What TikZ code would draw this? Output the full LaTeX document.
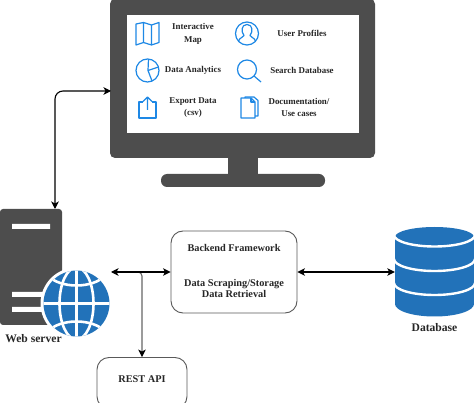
\documentclass[tikz,border=0pt]{standalone}
\usepackage{fontspec}
\setmainfont{Liberation Serif}
\usetikzlibrary{arrows.meta}
\definecolor{dk}{HTML}{4D4D4D}
\definecolor{ic}{HTML}{1E88E5}
\definecolor{gb}{HTML}{2272B9}
\tikzset{
 lab/.style={font=\bfseries\fontsize{8.9}{12.6}\selectfont,text=black!85,align=center,inner sep=0pt},
 bigl/.style={font=\bfseries\fontsize{10.3}{11.8}\selectfont,text=black!85,align=center,inner sep=0pt},
 capl/.style={font=\bfseries\fontsize{11.6}{13}\selectfont,text=black!85,align=center,inner sep=0pt},
 icn/.style={draw=ic,line width=1.2pt,line join=round},
 bx/.style={draw=black!65,line width=0.9pt,fill=white,rounded corners=12pt,inner sep=0pt},
 arr/.style={line width=1.1pt,black,{Stealth[length=7.5pt,width=7.5pt,inset=2pt]}-{Stealth[length=7.5pt,width=7.5pt,inset=2pt]}},
}
\begin{document}
\begin{tikzpicture}[x=1pt,y=-1pt]
\useasboundingbox (0,0) rectangle (474,403);
% monitor
\fill[dk] (228,150) rectangle (258,180);
\fill[dk,rounded corners=6pt] (161,174) rectangle (325,187);
\node[draw=none,fill=dk,rounded corners=5pt,minimum width=265pt,minimum height=159pt,inner sep=0pt] (mon) at (242.5,78.5) {};
\fill[white] (127,15.5) rectangle (358.5,133.5);
% icons: map
\draw[icn] (136,24) -- (136,45) -- (143.5,42.5) -- (151.5,45) -- (159,42.5) -- (159,22.5) -- (151.5,25) -- (143.5,22.5) -- cycle
 (143.5,22.5) -- (143.5,42.5) (151.5,25) -- (151.5,45);
\node[lab] (t1) at (193,33.8) {Interactive\\Map};
% user
\draw[icn] (247,33.5) circle (11.5);
\draw[icn] (238.5,41) .. controls (240,37) and (243,38) .. (244,35.5) .. controls (241,32) and (241,24.5) .. (247,24.5) .. controls (253,24.5) and (253,32) .. (250,35.5) .. controls (251,38) and (254,37) .. (255.5,41);
\node[lab] (t2) at (302,33.5) {User Profiles};
% pie
\draw[icn] (147.5,70.5) circle (11.5);
\draw[icn] (148.5,59) -- (148,70.5) -- (158.5,67) (148,70.5) -- (152,81);
\node[lab] (t3) at (193,70.5) {Data Analytics};
% search
\draw[icn] (247,69.5) circle (9.5);
\draw[icn] (254,76) -- (261,82);
\node[lab] (t4) at (302,70.5) {Search Database};
% export
\draw[icn] (143,102) -- (139,102) -- (139,118) -- (156,118) -- (156,102) -- (152,102);
\draw[icn] (147.5,110) -- (147.5,97) (143,101.5) -- (147.5,97) -- (152,101.5);
\node[lab] (t5) at (193,107.5) {Export Data\\(csv)};
% documents
\draw[icn] (241,98) -- (251,98) -- (255,102) -- (255,118) -- (241,118) -- cycle;
\draw[icn] (251,98) -- (251,102) -- (255,102);
\draw[icn] (245,98) -- (245,97) -- (254,97) -- (258,100.5) -- (258,116) -- (255,116);
\node[lab] (t6) at (299,107.5) {Documentation/\\Use cases};
% server
\node[fill=dk,rounded corners=3pt,minimum width=62pt,minimum height=116pt,inner sep=0pt] (srv) at (31,267) {};
\fill[white] (12,224) rectangle (50,229) (12,292) rectangle (50,297) (12,307) rectangle (50,312);
% globe
\fill[white] (76.5,303.5) circle (36);
\node[circle,fill=gb,minimum size=66pt,inner sep=0pt] (gl) at (76.5,303.5) {};
\begin{scope}
\clip (76.5,303.5) circle (33);
\draw[white,line width=2.6pt] (76.5,268) -- (76.5,338) (42,303.5) -- (112,303.5)
 (76.5,303.5) ellipse (17 and 36);
\draw[white,line width=2.6pt] (47,275) .. controls (60,289) and (93,289) .. (106,275);
\draw[white,line width=2.6pt] (47,332) .. controls (60,318) and (93,318) .. (106,332);
\end{scope}
\node[capl] (t7) at (33.5,339) {Web server};
% boxes
\node[bx,minimum width=126pt,minimum height=82pt] (be) at (234,272) {};
\node[bigl] (t8) at (234,248) {Backend Framework};
\node[bigl] (t9) at (234,288.5) {Data Scraping/Storage\\Data Retrieval};
\begin{scope}
\clip (90,350) rectangle (200,403);
\node[bx,minimum width=90pt,minimum height=51pt] (api) at (142,383) {};
\end{scope}
\node[bigl] (t10) at (142,379) {REST API};
% database
\fill[gb] (395,237) -- (395,304) arc[start angle=180,end angle=0,x radius=39.5,y radius=12.5] -- (474,237) arc[start angle=0,end angle=-180,x radius=39.5,y radius=10] -- cycle;
\node[inner sep=0pt,minimum size=0pt] (db) at (395,272) {};
\draw[white,line width=2.4pt] (394,235) arc[start angle=180,end angle=0,x radius=40.5,y radius=11.5];
\draw[white,line width=2.4pt] (394,259) arc[start angle=180,end angle=0,x radius=40.5,y radius=12];
\draw[white,line width=2.4pt] (394,283) arc[start angle=180,end angle=0,x radius=40.5,y radius=12];
\node[capl] (t11) at (434.5,328) {Database};
% connectors
\coordinate (wl) at (111,272);
\coordinate (jn) at (135,272);
\coordinate (mt) at (111,91);
\coordinate (st) at (55,209);
\draw[line width=1.1pt,black!60,rounded corners=4pt,-{Stealth[length=7.5pt,width=7.5pt,inset=2pt,black]}] (jn) -| (api.north);
\draw[arr,rounded corners=8pt] (mt) -| (st);
\draw[arr] (wl) -- (be.west);
\draw[arr] (be.east) -- (db);
\end{tikzpicture}
\end{document}
